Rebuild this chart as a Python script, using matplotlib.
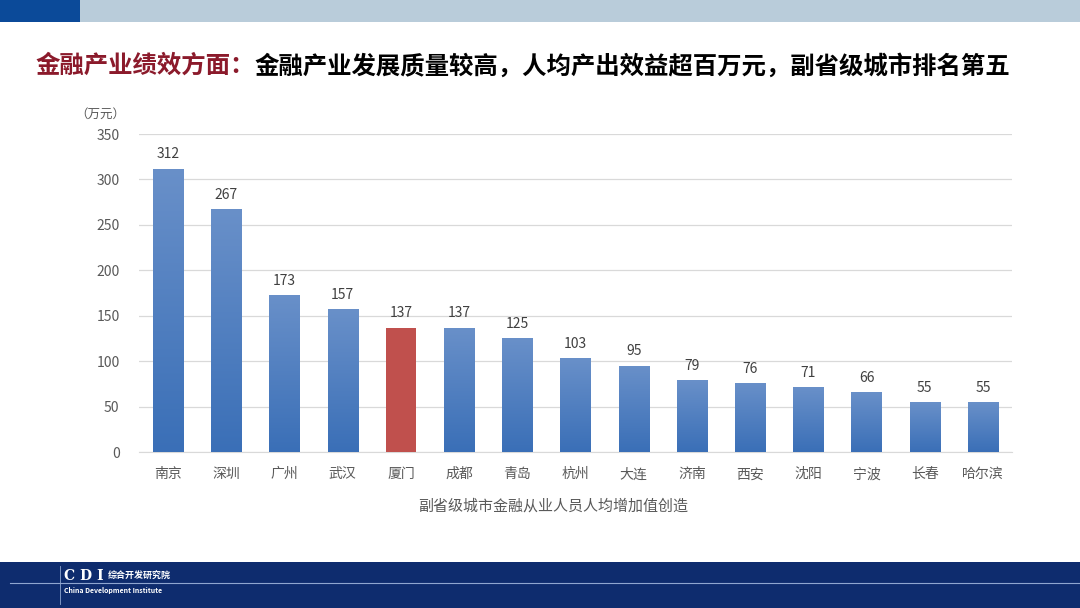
import matplotlib
matplotlib.use("Agg")
import matplotlib.pyplot as plt
from matplotlib.patches import Rectangle
import numpy as np

plt.rcParams['font.family'] = ['Noto Sans CJK SC', 'DejaVu Sans']

cities = ['南京', '深圳', '广州', '武汉', '厦门', '成都', '青岛', '杭州',
          '大连', '济南', '西安', '沈阳', '宁波', '长春', '哈尔滨']
values = [312, 267, 173, 157, 137, 137, 125, 103, 95, 79, 76, 71, 66, 55, 55]
highlight = '厦门'
yticks = [0, 50, 100, 150, 200, 250, 300, 350]

W, H = 1080, 608
fig = plt.figure(figsize=(W / 100, H / 100), dpi=100)
fig.patch.set_facecolor('white')

# top band
fig.patches.append(Rectangle((0, 1 - 22 / H), 80 / W, 22 / H, transform=fig.transFigure,
                             facecolor='#0B4A99', edgecolor='none'))
fig.patches.append(Rectangle((80 / W, 1 - 22 / H), 1 - 80 / W, 22 / H, transform=fig.transFigure,
                             facecolor='#B9CCDA', edgecolor='none'))

# footer band
fig.patches.append(Rectangle((0, 0), 1, 46 / H, transform=fig.transFigure,
                             facecolor='#0E2C6E', edgecolor='none'))
fig.lines.append(plt.Line2D([10 / W, 1], [1 - 583 / H] * 2, transform=fig.transFigure,
                            color='#8FA6D0', lw=0.8))
fig.lines.append(plt.Line2D([60 / W] * 2, [1 - 566 / H, 1 - 604 / H], transform=fig.transFigure,
                            color='#8FA6D0', lw=0.6))
fig.text(64 / W, 1 - 576 / H, 'C D I', color='white', fontsize=10, fontweight='bold',
         family=['DejaVu Serif'], va='center')
fig.text(108 / W, 1 - 576 / H, '综合开发研究院', color='white', fontsize=6.5, fontweight='bold', va='center')
fig.text(64 / W, 1 - 590 / H, 'China Development Institute', color='white', fontsize=5,
         fontweight='bold', va='center')

# title
t1 = fig.text(35 / W, 1 - 66 / H, '金融产业绩效方面：', color='#8B1A2B', fontsize=17.6,
              fontweight='bold', va='center')
fig.canvas.draw()
bb = t1.get_window_extent()
fig.text(bb.x1 / W, 1 - 66 / H, '金融产业发展质量较高，人均产出效益超百万元，副省级城市排名第五',
         color='black', fontsize=17.6, fontweight='bold', va='center')

# axes
ax = fig.add_axes([139 / W, 1 - 452 / H, (1012 - 139) / W, (452 - 134) / H])
x = np.arange(len(cities))
bar_w = 0.52
grad = np.linspace(0, 1, 256).reshape(-1, 1)
cmap = matplotlib.colors.LinearSegmentedColormap.from_list('g', ['#3A6FB7', '#6990C9'])
for i, (c, v) in enumerate(zip(cities, values)):
    if c == highlight:
        ax.bar(i, v, width=bar_w, color='#C0504D', zorder=3)
    else:
        bars = ax.bar(i, v, width=bar_w, color='#4F81BD', zorder=3)
        im = ax.imshow(grad, extent=[i - bar_w / 2, i + bar_w / 2, 0, v], origin='lower',
                       cmap=cmap, aspect='auto', zorder=4)
        im.set_clip_path(bars[0])
    ax.text(i, v + 8, str(v), ha='center', va='bottom', fontsize=10, color='#404040')
ax.set_aspect('auto')
ax.set_xlim(-0.5, len(cities) - 0.5)
ax.set_ylim(0, 350)

ax.set_yticks(yticks)
ax.set_xticks(x)
ax.set_xticklabels(cities)
ax.tick_params(axis='both', length=0, labelsize=10, colors='#595959')
ax.tick_params(axis='x', pad=11)
ax.tick_params(axis='y', pad=14)
ax.grid(axis='y', color='#D9D9D9', lw=0.9, zorder=0)
for s in ['top', 'right', 'left']:
    ax.spines[s].set_visible(False)
ax.spines['bottom'].set_color('#D9D9D9')
fig.text(553 / W, 1 - 506 / H, '副省级城市金融从业人员人均增加值创造', fontsize=10.8,
         color='#595959', ha='center', va='center')
fig.text(100 / W, 1 - 114 / H, '（万元）', fontsize=9, color='#595959', ha='center', va='center')

fig.savefig('out.png', dpi=100)
